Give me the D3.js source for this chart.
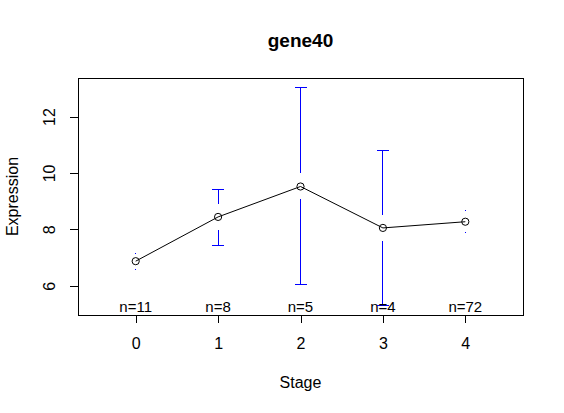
<!DOCTYPE html>
<html>
<head>
<meta charset="utf-8">
<script src="https://cdn.jsdelivr.net/npm/d3@7"></script>
<style>
  body { margin: 0; background: #fff; }
  text { font-family: "Liberation Sans", Arial, sans-serif; fill: #000; }
</style>
</head>
<body>
<script>
// values
const stages = [0, 1, 2, 3, 4];
const means = [6.87, 8.44, 9.52, 8.05, 8.27];
const ciLower = [6.56, 7.41, 6.05, 5.28, 7.88];
const ciUpper = [7.15, 9.43, 13.04, 10.80, 8.67];
const nCounts = [11, 8, 5, 4, 72];
const yTicks = [6, 8, 10, 12];

const W = 564, H = 413;
const box = { left: 78, right: 523, top: 78, bottom: 315 };
const gap = 13;      // gap round the point, like plotCI
const capHalf = 6;

const svg = d3.select('body').append('svg')
    .attr('width', W)
    .attr('height', H);

const xScale = d3.scaleLinear().domain([-0.7, 4.7]).range([box.left, box.right]);
const yScale = d3.scaleLinear().domain([4.96, 13.37]).range([box.bottom, box.top]);

const rows = stages.map((s, i) => ({ stage: s, mean: means[i], lo: ciLower[i], hi: ciUpper[i], n: nCounts[i] }));

// x axis
const xAxis = svg.append('g')
    .attr('transform', `translate(0,${box.bottom})`)
    .call(d3.axisBottom(xScale).tickValues(stages).tickSize(8).tickPadding(15).tickFormat(d3.format('d')));
xAxis.select('.domain').remove();
xAxis.selectAll('line').attr('stroke', '#000').attr('shape-rendering', 'crispEdges');
xAxis.selectAll('text').attr('font-size', 16).style('font-family', '"Liberation Sans", Arial, sans-serif').attr('fill', '#000');

// y axis, labels turned like R's las=0
const yAxis = svg.append('g')
    .attr('transform', `translate(${box.left},0)`)
    .call(d3.axisLeft(yScale).tickValues(yTicks).tickSize(8).tickFormat(d3.format('d')));
yAxis.select('.domain').remove();
yAxis.selectAll('line').attr('stroke', '#000').attr('shape-rendering', 'crispEdges');
yAxis.selectAll('text')
    .attr('x', null).attr('dy', null)
    .attr('transform', 'translate(-23,0) rotate(-90)')
    .attr('text-anchor', 'middle')
    .attr('font-size', 16)
    .style('font-family', '"Liberation Sans", Arial, sans-serif')
    .attr('fill', '#000');

// plot box
svg.append('rect')
    .attr('x', box.left).attr('y', box.top)
    .attr('width', box.right - box.left)
    .attr('height', box.bottom - box.top)
    .attr('fill', 'none')
    .attr('stroke', '#000')
    .attr('stroke-width', 1)
    .attr('shape-rendering', 'crispEdges');

// error bars
const bars = svg.append('g')
    .attr('stroke', '#0000ff')
    .attr('fill', '#0000ff')
    .attr('shape-rendering', 'crispEdges');
rows.forEach((d) => {
    const cx = xScale(d.stage);
    const cy = yScale(d.mean);
    const yHi = yScale(d.hi);
    const yLo = yScale(d.lo);
    [[yHi, cy - gap, -1], [yLo, cy + gap, 1]].forEach(([end, inner, dir]) => {
        if (dir * (end - inner) > 0) {
            bars.append('line')
                .attr('x1', cx).attr('x2', cx)
                .attr('y1', end).attr('y2', inner);
            bars.append('line')
                .attr('x1', cx - capHalf).attr('x2', cx + capHalf)
                .attr('y1', end).attr('y2', end);
        } else {
            // too short: only a dot at the bar end
            bars.append('rect')
                .attr('x', cx - 0.5).attr('y', end - 0.5)
                .attr('width', 1).attr('height', 1)
                .attr('stroke', 'none');
        }
    });
});

// mean line and points
svg.append('path')
    .datum(rows)
    .attr('d', d3.line().x((d) => xScale(d.stage)).y((d) => yScale(d.mean)))
    .attr('fill', 'none')
    .attr('stroke', '#000')
    .attr('stroke-width', 1);

svg.selectAll('.pt')
    .data(rows)
    .enter()
    .append('circle')
    .attr('class', 'pt')
    .attr('cx', (d) => xScale(d.stage))
    .attr('cy', (d) => yScale(d.mean))
    .attr('r', 3.6)
    .attr('fill', 'none')
    .attr('stroke', '#000')
    .attr('stroke-width', 1);

// n= labels
svg.selectAll('.nlab')
    .data(rows)
    .enter()
    .append('text')
    .attr('class', 'nlab')
    .attr('x', (d) => xScale(d.stage))
    .attr('y', 312)
    .attr('text-anchor', 'middle')
    .attr('font-size', 15)
    .text((d) => `n=${d.n}`);

// titles
svg.append('text')
    .attr('x', (box.left + box.right) / 2)
    .attr('y', 47)
    .attr('text-anchor', 'middle')
    .attr('font-size', 19)
    .attr('font-weight', 'bold')
    .text('gene40');

svg.append('text')
    .attr('x', (box.left + box.right) / 2)
    .attr('y', 388)
    .attr('text-anchor', 'middle')
    .attr('font-size', 16)
    .text('Stage');

svg.append('text')
    .attr('transform', `translate(18,${(box.top + box.bottom) / 2}) rotate(-90)`)
    .attr('text-anchor', 'middle')
    .attr('font-size', 16)
    .text('Expression');
</script>
</body>
</html>
